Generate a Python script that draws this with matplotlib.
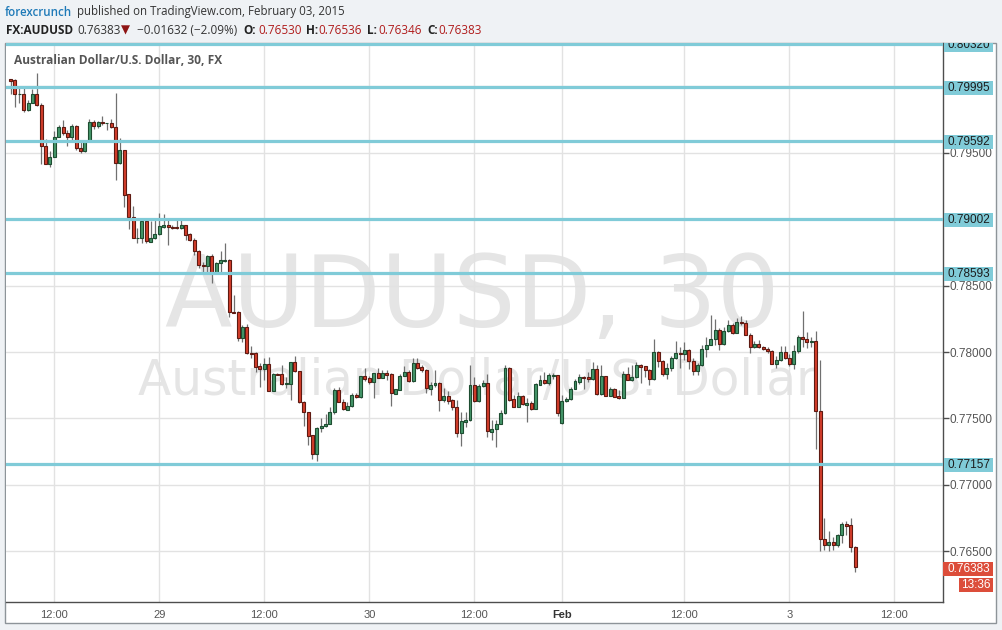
""" AUDUSD 30-minute candles, TradingView style snapshot (Feb 03, 2015) """
import numpy as np
import matplotlib.pyplot as plt
from matplotlib.patches import Rectangle

W, H = 1002, 630

# 30 min bars, Jan 28 07:00 -> Feb 3 07:30 (weekend removed)
opens = [
    .80056, .80046, .79940, .79943, .79820, .79878, .79943, .79860, .79551, .79413,
    .79468, .79621, .79694, .79646, .79619, .79702, .79536, .79511, .79589, .79732,
    .79699, .79732, .79722, .79724, .79697, .79420, .79523, .79189, .79020, .78855,
    .78855, .78990, .78832, .78855, .78888, .78945, .78955, .78945, .78943, .78933,
    .78955, .78888, .78845, .78759, .78656, .78646, .78722, .78593, .78669, .78689,
    .78691, .78302, .78299, .78108, .78186, .77993, .77990, .77895, .77875, .77907,
    .77709, .77834, .77834, .77757, .77759, .77923, .77855, .77621, .77545, .77375,
    .77229, .77425, .77440, .77462, .77545, .77711, .77626, .77566, .77591, .77674,
    .77658, .77819, .77804, .77777, .77839, .77807, .77839, .77832, .77686, .77716,
    .77819, .77847, .77779, .77915, .77887, .77862, .77724, .77749, .77766, .77639,
    .77666, .77636, .77583, .77387, .77477, .77485, .77751, .77628, .77744, .77769,
    .77400, .77417, .77460, .77538, .77877, .77643, .77588, .77666, .77603, .77613,
    .77570, .77754, .77787, .77769, .77822, .77824, .77467, .77628, .77643, .77724,
    .77776, .77812, .77809, .77799, .77869, .77681, .77817, .77671, .77719, .77666,
    .77656, .77834, .77792, .77809, .77902, .77895, .77865, .77795, .78000, .77935,
    .77832, .77880, .77955, .77992, .77982, .78015, .77930, .77857, .77900, .78022,
    .78052, .78097, .78167, .78060, .78157, .78202, .78145, .78225, .78217, .78127,
    .78035, .78060, .78040, .78022, .78007, .77910, .77940, .78000, .77955, .77907,
    .78007, .78112, .78097, .78075, .78082, .77555, .76590, .76545, .76570, .76545,
    .76620, .76705, .76697, .76530,
]
highs = [
    .80056, .80056, .80006, .79988, .79900, .79983, .80104, .79875, .79606, .79511,
    .79661, .79707, .79749, .79674, .79717, .79712, .79599, .79599, .79754, .79749,
    .79742, .79779, .79727, .79757, .79953, .79611, .79523, .79189, .79096, .78933,
    .79003, .78995, .78988, .78995, .79046, .79038, .79013, .78958, .79008, .79000,
    .78955, .78895, .78855, .78769, .78681, .78727, .78737, .78681, .78764, .78822,
    .78699, .78430, .78309, .78204, .78211, .78045, .78000, .77915, .77958, .77965,
    .77844, .77839, .77905, .77812, .77923, .77970, .77860, .77633, .77550, .77375,
    .77432, .77505, .77533, .77588, .77729, .77734, .77643, .77621, .77689, .77689,
    .77822, .77880, .77819, .77839, .77877, .77865, .77865, .77839, .77724, .77832,
    .77895, .77865, .77953, .77953, .77902, .77870, .77776, .77862, .77776, .77731,
    .77709, .77646, .77639, .77550, .77550, .77905, .77814, .77756, .77789, .77837,
    .77488, .77488, .77563, .77902, .77890, .77676, .77701, .77673, .77651, .77628,
    .77764, .77827, .77847, .77839, .77839, .77829, .77673, .77663, .77734, .77794,
    .77832, .77822, .77852, .77922, .77905, .77902, .77822, .77739, .77726, .77714,
    .77854, .77885, .77902, .77922, .77907, .77897, .77870, .78100, .78005, .77942,
    .77917, .77967, .78085, .78037, .78075, .78022, .77955, .77917, .78055, .78112,
    .78280, .78250, .78180, .78185, .78242, .78217, .78255, .78272, .78242, .78142,
    .78085, .78092, .78045, .78037, .78012, .77970, .78047, .78045, .77987, .78055,
    .78130, .78310, .78152, .78117, .78160, .77942, .76750, .76650, .76610, .76630,
    .76717, .76725, .76750, .76536,
]
lows = [
    .79943, .79842, .79875, .79805, .79817, .79873, .79855, .79413, .79413, .79393,
    .79465, .79616, .79631, .79548, .79586, .79521, .79498, .79506, .79586, .79679,
    .79689, .79707, .79671, .79689, .79292, .79418, .79091, .78930, .78855, .78822,
    .78820, .78820, .78825, .78852, .78882, .78935, .78804, .78923, .78928, .78925,
    .78840, .78835, .78734, .78636, .78593, .78586, .78523, .78588, .78606, .78681,
    .78267, .78292, .78086, .78078, .77988, .77955, .77852, .77739, .77789, .77709,
    .77706, .77824, .77752, .77726, .77638, .77850, .77616, .77445, .77299, .77196,
    .77181, .77400, .77437, .77457, .77530, .77621, .77563, .77560, .77586, .77656,
    .77656, .77784, .77759, .77651, .77804, .77804, .77789, .77596, .77681, .77714,
    .77817, .77774, .77777, .77875, .77850, .77689, .77673, .77739, .77558, .77626,
    .77607, .77563, .77362, .77294, .77437, .77483, .77623, .77626, .77734, .77359,
    .77337, .77286, .77457, .77535, .77633, .77583, .77583, .77598, .77475, .77563,
    .77568, .77749, .77756, .77751, .77799, .77518, .77457, .77623, .77639, .77719,
    .77759, .77721, .77776, .77789, .77676, .77676, .77668, .77668, .77661, .77649,
    .77653, .77789, .77781, .77802, .77769, .77810, .77750, .77792, .77890, .77817,
    .77795, .77855, .77950, .77880, .77942, .77870, .77825, .77830, .77897, .77960,
    .78050, .78050, .78012, .78055, .78150, .78135, .78140, .78200, .78125, .77990,
    .78027, .78030, .78015, .77990, .77907, .77877, .77935, .77950, .77897, .77875,
    .77992, .78037, .78030, .78037, .77272, .76500, .76510, .76500, .76512, .76530,
    .76565, .76625, .76497, .76346,
]
closes = [
    .80041, .79943, .79945, .79820, .79878, .79943, .79860, .79551, .79415, .79468,
    .79621, .79694, .79646, .79619, .79702, .79536, .79511, .79589, .79732, .79699,
    .79732, .79722, .79724, .79692, .79420, .79523, .79186, .79020, .78855, .78860,
    .78990, .78835, .78857, .78888, .78948, .78955, .78945, .78933, .78933, .78955,
    .78885, .78842, .78759, .78654, .78646, .78722, .78593, .78669, .78691, .78691,
    .78299, .78297, .78108, .78186, .77990, .77988, .77890, .77875, .77907, .77709,
    .77834, .77829, .77757, .77767, .77923, .77855, .77621, .77545, .77370, .77229,
    .77425, .77440, .77462, .77545, .77711, .77626, .77568, .77593, .77676, .77658,
    .77822, .77799, .77777, .77839, .77807, .77839, .77829, .77689, .77719, .77819,
    .77847, .77779, .77915, .77882, .77862, .77726, .77751, .77766, .77639, .77669,
    .77633, .77583, .77387, .77480, .77490, .77751, .77628, .77744, .77769, .77402,
    .77420, .77462, .77540, .77877, .77641, .77588, .77666, .77606, .77613, .77570,
    .77756, .77787, .77766, .77824, .77827, .77543, .77631, .77646, .77724, .77781,
    .77809, .77807, .77799, .77869, .77681, .77817, .77671, .77719, .77663, .77656,
    .77834, .77792, .77812, .77900, .77890, .77862, .77795, .78000, .77930, .77832,
    .77880, .77955, .77992, .77982, .78015, .77930, .77857, .77900, .78022, .78052,
    .78097, .78167, .78060, .78157, .78202, .78145, .78225, .78215, .78127, .78035,
    .78060, .78035, .78022, .78007, .77910, .77940, .78000, .77955, .77907, .78007,
    .78112, .78097, .78075, .78082, .77555, .76590, .76545, .76570, .76545, .76620,
    .76705, .76692, .76530, .76383,
]

levels = [0.80320, 0.79995, 0.79592, 0.79002, 0.78593, 0.77157]
price_ticks = [0.765, 0.770, 0.775, 0.780, 0.785, 0.790, 0.795]
time_ticks = [10, 34, 58, 82, 106, 126, 154, 178, 202]   # bar index of each label
time_labels = ['12:00', '29', '12:00', '30', '12:00', 'Feb', '12:00', '3', '12:00']
last_price = 0.76383
countdown = '13:36'

UP_FILL, UP_EDGE = '#45976a', '#1e4d31'
DN_FILL, DN_EDGE = '#d43d2b', '#5e1a12'
LEVEL_C = '#80cbd8'
TXT = '#555555'
HDR_FONT = ['Open Sans', 'DejaVu Sans']


def fx(px):
    return px / W


def fy(py):
    return 1 - py / H


fig = plt.figure(figsize=(W/100, H/100), dpi=100, facecolor='#eff2f5')

# white chart box
fig.patches.append(Rectangle((fx(5), fy(623)), fx(996)-fx(5), fy(43)-fy(623),
                             transform=fig.transFigure, facecolor='white',
                             edgecolor='#8d9499', lw=1, zorder=-1))

ax = fig.add_axes([fx(6), fy(602), fx(943)-fx(6), fy(43)-fy(602)])
ax.set_facecolor('white')
ax.set_xlim(-1.04, 213.1)
ax.set_ylim(0.76118, 0.80327)
for s in ['top', 'left']:
    ax.spines[s].set_visible(False)
for s in ['right', 'bottom']:
    ax.spines[s].set_color('#4d4d4d')
    ax.spines[s].set_linewidth(1)

# watermark
ax.text((472 - 6)/937, (602 - 327)/559, 'AUDUSD, 30', transform=ax.transAxes,
        ha='center', va='baseline', fontsize=71, color='#e5e5e5', zorder=0.2)
ax.text((477 - 6)/937, (602 - 395)/559, 'Australian Dollar/U.S. Dollar',
        transform=ax.transAxes, ha='center', va='baseline', fontsize=35,
        color='#e5e5e5', zorder=0.2)

# grid + axes
ax.set_axisbelow(True)
ax.set_yticks(price_ticks)
ax.axhline(0.800, color='#e2e2e2', lw=1, zorder=0.5)
ax.yaxis.tick_right()
ax.yaxis.set_major_formatter(lambda v, pos: f'{v:.5f}')
ax.tick_params(axis='y', length=4, width=1, color='#4d4d4d', pad=1,
               labelsize=8.5, labelcolor=TXT)
ax.set_xticks(time_ticks, time_labels)
ax.tick_params(axis='x', length=0, pad=6, labelsize=8, labelcolor=TXT)
for lbl in ax.get_xticklabels():
    lbl.set_family('Liberation Sans')
    if lbl.get_text() == 'Feb':
        lbl.set_fontweight('bold')
        lbl.set_color('#333333')
for lbl in ax.get_yticklabels():
    lbl.set_family('Liberation Sans')
ax.grid(True, color='#e2e2e2', lw=1)

# candles
o, h, l, c = map(np.array, (opens, highs, lows, closes))
x = np.arange(len(o))
up = c >= o
ax.vlines(x, l, h, color='#707070', lw=0.9, zorder=3)
body = np.maximum(np.abs(c - o), 0.00002)
ax.bar(x, body, bottom=np.minimum(o, c), width=0.68,
       color=np.where(up, UP_FILL, DN_FILL),
       edgecolor=np.where(up, UP_EDGE, DN_EDGE), lw=0.8, zorder=4)

# horizontal levels
for lv in levels:
    ax.axhline(lv, color=LEVEL_C, lw=2.3, zorder=5)

# price scale labels
pax = fig.add_axes([fx(943), fy(602), fx(996)-fx(943), fy(43)-fy(602)])
pax.set_xlim(0, 53)
pax.set_ylim(ax.get_ylim())
pax.axis('off')
per_px = (0.80327 - 0.76118) / 559
bh = 14 * per_px
for lv in levels:
    pax.add_patch(Rectangle((1, lv - bh/2 - per_px), 49, bh, facecolor=LEVEL_C,
                            edgecolor='none'))
    pax.text(5, lv - per_px, f'{lv:.5f}', ha='left', va='center', fontsize=8.5,
             color='#1c1c1c', family='Liberation Sans', clip_on=True)
pax.add_patch(Rectangle((0, last_price - bh/2 - 2*per_px), 50, bh,
                        facecolor='#dc4d3a', edgecolor='none'))
pax.text(5, last_price - 2*per_px, f'{last_price:.5f}', ha='left', va='center',
         fontsize=8.5, color='white', family='Liberation Sans')
pax.add_patch(Rectangle((16, last_price - bh/2 - 18*per_px), 34, bh,
                        facecolor='#dc4d3a', edgecolor='none'))
pax.text(33, last_price - 18*per_px, countdown, ha='center', va='center',
         fontsize=8.5, color='white', family='Liberation Sans')

# header
fig.text(fx(5), fy(12), 'forexcrunch', color='#1f7ab8', fontsize=8.3,
         fontweight='semibold', family=HDR_FONT, va='center')
fig.text(fx(77), fy(12), 'published on TradingView.com, February 03, 2015',
         color='#333333', fontsize=8.3, family=HDR_FONT, va='center')
row = [(6, 'FX:AUDUSD', '#222222', 'bold'),
       (77, '0.76383', '#333333', 'normal'),
       (137, '\u22120.01632 (\u22122.09%)', '#333333', 'normal'),
       (243, 'O:', '#222222', 'bold'), (258, '0.76530', '#b01c1c', 'normal'),
       (306, 'H:', '#222222', 'bold'), (318, '0.76536', '#b01c1c', 'normal'),
       (367, 'L:', '#222222', 'bold'), (378, '0.76346', '#b01c1c', 'normal'),
       (427, 'C:', '#222222', 'bold'), (438, '0.76383', '#b01c1c', 'normal')]
for px, s, col, wt in row:
    fig.text(fx(px), fy(30), s, color=col, fontsize=8.5, fontweight=wt,
             family=HDR_FONT, va='center')
fig.text(fx(121), fy(30), '\u25bc', color='#8e1414', fontsize=8.5,
         family='DejaVu Sans', va='center')
fig.text(fx(14), fy(61), 'Australian Dollar/U.S. Dollar, 30, FX', color=TXT,
         fontsize=8.6, fontweight='bold', family=HDR_FONT, va='center')

fig.savefig('out.png', dpi=100, facecolor=fig.get_facecolor())
